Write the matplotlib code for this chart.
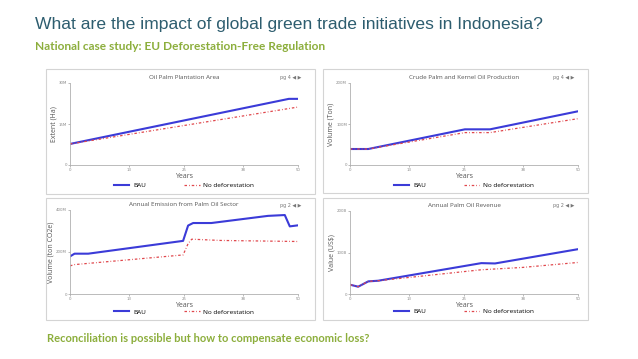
import matplotlib.pyplot as plt
from matplotlib.patches import Rectangle

W, H = 638, 359

# x axis: simulation years
xticks = [0, 13, 25, 38, 50]

# Oil palm plantation area (million ha)
area_years = [0, 48, 50]
area_bau = [7.7, 24.2, 24.2]
area_nd_years = [0, 50]
area_nd = [7.7, 21.2]

# Crude palm and kernel oil production (million ton)
prod_years = [0, 4, 25.2, 30.7, 50]
prod_bau = [39, 39, 87, 87, 131]
prod_nd = [39, 39, 79, 79, 113]

# Annual emission from palm oil sector (million ton CO2e)
em_years = [0, 1, 4, 24.8, 25.9, 27, 31, 43.4, 47.1, 48.2, 50]
em_bau = [179, 192, 192, 253, 326, 338, 338, 372, 376, 322, 327]
em_nd_years = [0, 1, 24.8, 25.9, 26.7, 33, 50]
em_nd = [134, 140, 186, 240, 261, 255, 250]

# Annual palm oil revenue (billion US$)
rev_years = [0, 1.8, 4, 6.2, 28.8, 31.8, 50]
rev_bau = [22.4, 17.6, 30.4, 32, 74.4, 73.6, 108]
rev_nd_years = [0, 1.8, 4, 6.2, 28.8, 37.8, 50]
rev_nd = [22.4, 17.6, 30.4, 32, 58.4, 64, 76]

BLUE = '#3b3bd8'
RED = '#e0474c'


def px_rect(l, t, r, b):
    return [l / W, 1 - b / H, (r - l) / W, (b - t) / H]


def panel(fig, box, plot, title, ylabel, ymax, ylabels, pg, bx, by, nx, ny, leg_y):
    fig.patches.append(Rectangle((box[0] / W, 1 - box[3] / H),
                                 (box[2] - box[0]) / W, (box[3] - box[1]) / H,
                                 transform=fig.transFigure, fill=False,
                                 edgecolor='#d4d4d4', lw=0.8))
    ax = fig.add_axes(px_rect(*plot))
    ax.plot(bx, by, color=BLUE, lw=1.5, label='BAU')
    ax.plot(nx, ny, color=RED, lw=0.9, ls=(0, (2, 1.6, 0.6, 1.6)), label='No deforestation')
    ax.set_xlim(0, 50)
    ax.set_ylim(0, ymax)
    ax.set_xticks(xticks)
    ax.set_xticklabels([str(v) for v in xticks])
    ax.set_yticks([0, ymax / 2, ymax])
    ax.set_yticklabels(ylabels)
    ax.tick_params(labelsize=2.8, colors='#888888', length=1.2, width=0.4, pad=1)
    for s in ['top', 'right']:
        ax.spines[s].set_visible(False)
    for s in ['left', 'bottom']:
        ax.spines[s].set_color('#b0b0b0')
        ax.spines[s].set_linewidth(0.6)
    ax.set_title(title, fontsize=4.5, color='#555555', pad=3, family='Open Sans')
    ax.set_xlabel('Years', fontsize=5, color='#555555', labelpad=1, family='Open Sans')
    ax.set_ylabel(ylabel, fontsize=5, color='#555555', labelpad=1, family='Open Sans')
    ax.legend(loc='upper center', bbox_to_anchor=(0.5, leg_y), ncol=2, frameon=False,
              handlelength=2.4, columnspacing=6, handletextpad=0.6,
              borderaxespad=0, prop={'family': 'Open Sans', 'size': 4.6})
    fig.text((box[2] - 14) / W, 1 - (box[1] + 8) / H, pg, fontsize=3.5, color='#777777',
             ha='right', va='center')
    return ax


fig = plt.figure(figsize=(W / 100, H / 100), dpi=100)
fig.patch.set_facecolor('white')

fig.text(35 / W, 1 - 24 / H, 'What are the impact of global green trade initiatives in Indonesia?',
         fontsize=12.6, color='#2d5d6f', family='Liberation Sans', va='center', ha='left')
fig.text(35 / W, 1 - 47 / H, 'National case study: EU Deforestation-Free Regulation',
         fontsize=8.6, color='#8cae3c', family='Lato', fontweight='bold', va='center', ha='left')
fig.text(47 / W, 1 - 339 / H, 'Reconciliation is possible but how to compensate economic loss?',
         fontsize=8, color='#8cae3c', family='Lato', fontweight='bold', va='center', ha='left')

panel(fig, (46, 69, 315, 194), (70, 83, 298, 165), 'Oil Palm Plantation Area', 'Extent (Ha)',
      30, ['0', '15M', '30M'], 'pg 4 ◀ ▶', area_years, area_bau, area_nd_years, area_nd, -0.18)
panel(fig, (323, 69, 588, 193), (350, 83, 578, 165), 'Crude Palm and Kernel Oil Production',
      'Volume (Ton)', 200, ['0', '100M', '200M'], 'pg 4 ◀ ▶',
      prod_years, prod_bau, prod_years, prod_nd, -0.18)
panel(fig, (46, 198, 315, 320), (70, 210, 298, 294), 'Annual Emission from Palm Oil Sector',
      'Volume (ton CO2e)', 400, ['0', '200M', '400M'], 'pg 2 ◀ ▶',
      em_years, em_bau, em_nd_years, em_nd, -0.15)
panel(fig, (323, 198, 588, 320), (350, 211, 578, 294), 'Annual Palm Oil Revenue',
      'Value (US$)', 200, ['0', '100B', '200B'], 'pg 2 ◀ ▶',
      rev_years, rev_bau, rev_nd_years, rev_nd, -0.15)

fig.savefig('out.png', dpi=100)
